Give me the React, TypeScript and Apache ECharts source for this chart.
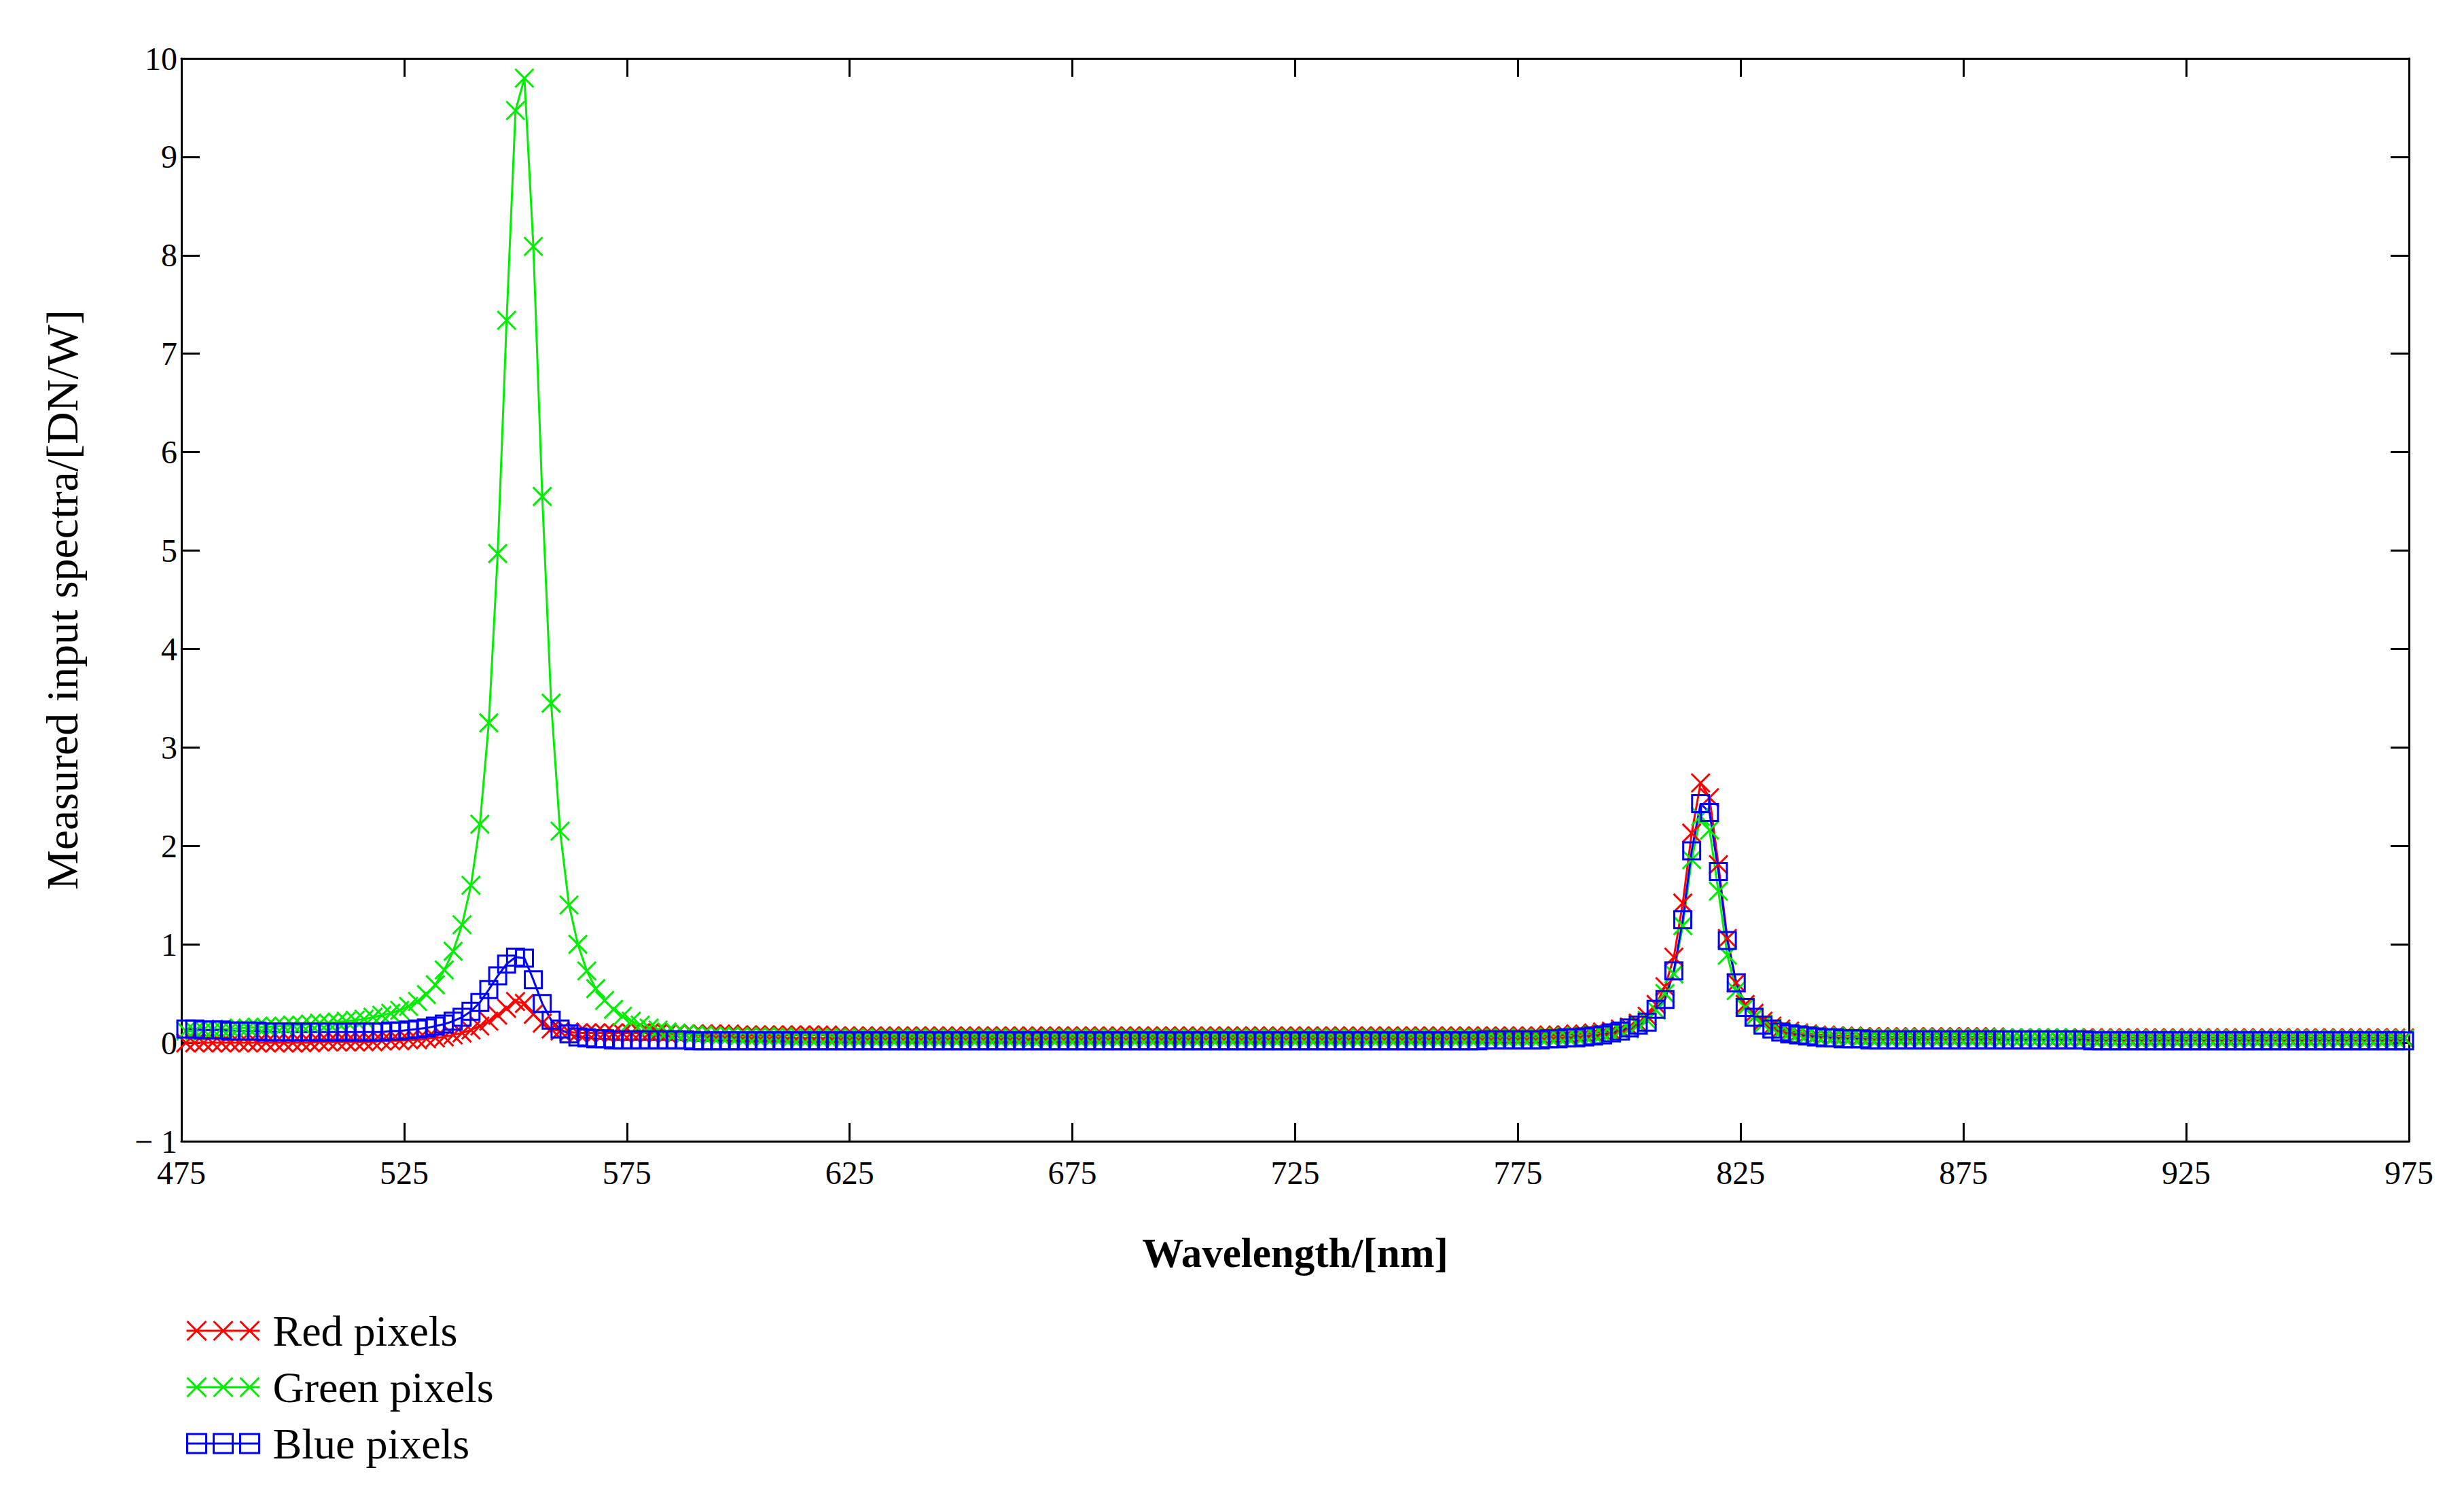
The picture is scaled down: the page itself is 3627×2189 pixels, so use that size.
import React, { useEffect, useRef } from "react";
import * as echarts from "echarts";

// Wavelength grid of the measured samples (nm), 2 nm spacing
const wavelengths: number[] = Array.from({ length: 250 }, (_, i) => 476 + 2 * i);

const xTickValues = [475, 525, 575, 625, 675, 725, 775, 825, 875, 925, 975];

const redPixels: number[] = [
  0.00, 0.00, 0.00, 0.00, 0.00, 0.00, 0.00, 0.00, 0.00, 0.00,
  0.00, 0.00, 0.00, 0.00, 0.00, 0.01, 0.01, 0.01, 0.01, 0.01,
  0.01, 0.01, 0.02, 0.02, 0.02, 0.03, 0.03, 0.04, 0.05, 0.06,
  0.08, 0.10, 0.13, 0.17, 0.22, 0.28, 0.35, 0.42, 0.40, 0.29,
  0.20, 0.14, 0.12, 0.11, 0.10, 0.10, 0.10, 0.10, 0.10, 0.10,
  0.10, 0.10, 0.10, 0.10, 0.09, 0.09, 0.09, 0.09, 0.09, 0.09,
  0.09, 0.09, 0.08, 0.08, 0.08, 0.08, 0.08, 0.08, 0.08, 0.08,
  0.08, 0.08, 0.08, 0.07, 0.07, 0.07, 0.07, 0.07, 0.07, 0.07,
  0.07, 0.07, 0.07, 0.07, 0.07, 0.07, 0.07, 0.07, 0.07, 0.07,
  0.07, 0.07, 0.07, 0.07, 0.07, 0.07, 0.07, 0.07, 0.07, 0.07,
  0.07, 0.07, 0.07, 0.07, 0.07, 0.07, 0.07, 0.07, 0.07, 0.07,
  0.07, 0.07, 0.07, 0.07, 0.07, 0.07, 0.07, 0.07, 0.07, 0.07,
  0.07, 0.07, 0.07, 0.07, 0.07, 0.07, 0.07, 0.07, 0.07, 0.07,
  0.07, 0.07, 0.07, 0.07, 0.07, 0.07, 0.07, 0.07, 0.07, 0.07,
  0.07, 0.07, 0.07, 0.07, 0.07, 0.07, 0.07, 0.07, 0.07, 0.07,
  0.07, 0.07, 0.07, 0.08, 0.08, 0.08, 0.09, 0.09, 0.10, 0.11,
  0.12, 0.14, 0.16, 0.20, 0.27, 0.39, 0.57, 0.87, 1.42, 2.13,
  2.64, 2.49, 1.81, 1.06, 0.61, 0.39, 0.30, 0.22, 0.17, 0.14,
  0.12, 0.10, 0.09, 0.08, 0.08, 0.07, 0.07, 0.07, 0.06, 0.06,
  0.06, 0.06, 0.06, 0.06, 0.06, 0.06, 0.06, 0.06, 0.06, 0.06,
  0.06, 0.06, 0.06, 0.06, 0.05, 0.05, 0.05, 0.05, 0.05, 0.05,
  0.05, 0.05, 0.05, 0.05, 0.05, 0.05, 0.05, 0.05, 0.05, 0.05,
  0.05, 0.05, 0.05, 0.05, 0.05, 0.05, 0.05, 0.05, 0.05, 0.05,
  0.05, 0.05, 0.05, 0.05, 0.05, 0.05, 0.05, 0.05, 0.05, 0.05,
  0.05, 0.05, 0.05, 0.05, 0.05, 0.05, 0.05, 0.05, 0.05, 0.05,
];

const greenPixels: number[] = [
  0.12, 0.12, 0.13, 0.13, 0.14, 0.14, 0.15, 0.15, 0.16, 0.16,
  0.17, 0.17, 0.18, 0.18, 0.19, 0.20, 0.20, 0.21, 0.22, 0.23,
  0.24, 0.26, 0.28, 0.30, 0.33, 0.37, 0.42, 0.49, 0.59, 0.74,
  0.93, 1.20, 1.60, 2.22, 3.25, 4.97, 7.34, 9.47, 9.80, 8.09,
  5.55, 3.45, 2.15, 1.40, 1.00, 0.73, 0.55, 0.43, 0.34, 0.27,
  0.22, 0.18, 0.15, 0.13, 0.11, 0.10, 0.09, 0.08, 0.08, 0.07,
  0.07, 0.07, 0.06, 0.06, 0.06, 0.06, 0.06, 0.06, 0.05, 0.05,
  0.05, 0.05, 0.05, 0.05, 0.05, 0.05, 0.05, 0.05, 0.05, 0.05,
  0.05, 0.05, 0.05, 0.05, 0.05, 0.05, 0.05, 0.05, 0.05, 0.05,
  0.05, 0.05, 0.05, 0.05, 0.05, 0.04, 0.05, 0.05, 0.05, 0.05,
  0.05, 0.05, 0.05, 0.05, 0.05, 0.05, 0.05, 0.05, 0.05, 0.05,
  0.05, 0.05, 0.05, 0.05, 0.05, 0.05, 0.05, 0.05, 0.05, 0.05,
  0.05, 0.05, 0.05, 0.05, 0.05, 0.05, 0.05, 0.05, 0.05, 0.05,
  0.05, 0.05, 0.05, 0.05, 0.05, 0.05, 0.05, 0.05, 0.05, 0.05,
  0.05, 0.05, 0.05, 0.05, 0.05, 0.05, 0.05, 0.05, 0.05, 0.05,
  0.05, 0.05, 0.05, 0.06, 0.06, 0.06, 0.07, 0.07, 0.08, 0.09,
  0.10, 0.12, 0.14, 0.18, 0.23, 0.33, 0.50, 0.70, 1.19, 1.86,
  2.30, 2.16, 1.54, 0.89, 0.53, 0.36, 0.26, 0.19, 0.15, 0.12,
  0.10, 0.09, 0.08, 0.07, 0.07, 0.06, 0.06, 0.06, 0.05, 0.05,
  0.05, 0.05, 0.05, 0.05, 0.05, 0.05, 0.05, 0.05, 0.05, 0.05,
  0.05, 0.05, 0.05, 0.05, 0.05, 0.05, 0.05, 0.05, 0.05, 0.05,
  0.05, 0.05, 0.05, 0.04, 0.04, 0.04, 0.04, 0.04, 0.04, 0.04,
  0.04, 0.04, 0.04, 0.04, 0.04, 0.04, 0.04, 0.04, 0.04, 0.04,
  0.04, 0.04, 0.04, 0.04, 0.04, 0.04, 0.04, 0.04, 0.04, 0.04,
  0.04, 0.04, 0.04, 0.04, 0.04, 0.04, 0.04, 0.04, 0.04, 0.04,
];

const bluePixels: number[] = [
  0.14, 0.14, 0.13, 0.13, 0.13, 0.12, 0.12, 0.12, 0.12, 0.11,
  0.11, 0.11, 0.11, 0.11, 0.11, 0.11, 0.11, 0.11, 0.11, 0.11,
  0.11, 0.11, 0.11, 0.12, 0.12, 0.13, 0.14, 0.15, 0.17, 0.19,
  0.22, 0.26, 0.32, 0.41, 0.54, 0.68, 0.80, 0.87, 0.86, 0.64,
  0.40, 0.23, 0.14, 0.09, 0.06, 0.05, 0.04, 0.04, 0.03, 0.03,
  0.03, 0.03, 0.03, 0.03, 0.03, 0.03, 0.03, 0.02, 0.02, 0.02,
  0.02, 0.02, 0.02, 0.02, 0.02, 0.02, 0.02, 0.02, 0.02, 0.02,
  0.02, 0.02, 0.02, 0.02, 0.02, 0.02, 0.02, 0.02, 0.02, 0.02,
  0.02, 0.02, 0.02, 0.02, 0.02, 0.02, 0.02, 0.02, 0.02, 0.02,
  0.02, 0.02, 0.02, 0.02, 0.02, 0.02, 0.02, 0.02, 0.02, 0.02,
  0.02, 0.02, 0.02, 0.02, 0.02, 0.02, 0.02, 0.02, 0.02, 0.02,
  0.02, 0.02, 0.02, 0.02, 0.02, 0.02, 0.02, 0.02, 0.02, 0.02,
  0.02, 0.02, 0.02, 0.02, 0.02, 0.02, 0.02, 0.02, 0.02, 0.02,
  0.02, 0.02, 0.02, 0.02, 0.02, 0.02, 0.02, 0.02, 0.02, 0.02,
  0.02, 0.02, 0.02, 0.02, 0.02, 0.02, 0.03, 0.03, 0.03, 0.03,
  0.03, 0.03, 0.03, 0.04, 0.04, 0.05, 0.05, 0.06, 0.07, 0.08,
  0.10, 0.12, 0.15, 0.18, 0.21, 0.34, 0.44, 0.73, 1.25, 1.95,
  2.43, 2.34, 1.74, 1.04, 0.61, 0.36, 0.26, 0.18, 0.14, 0.11,
  0.09, 0.08, 0.07, 0.06, 0.05, 0.05, 0.04, 0.04, 0.04, 0.03,
  0.03, 0.03, 0.03, 0.03, 0.03, 0.03, 0.03, 0.03, 0.03, 0.03,
  0.03, 0.03, 0.03, 0.03, 0.03, 0.03, 0.03, 0.03, 0.03, 0.03,
  0.03, 0.03, 0.03, 0.03, 0.02, 0.02, 0.02, 0.02, 0.02, 0.02,
  0.02, 0.02, 0.02, 0.02, 0.02, 0.02, 0.02, 0.02, 0.02, 0.02,
  0.02, 0.02, 0.02, 0.02, 0.02, 0.02, 0.02, 0.02, 0.02, 0.02,
  0.02, 0.02, 0.02, 0.02, 0.02, 0.02, 0.02, 0.02, 0.02, 0.02,
];

const seriesNames = ["Red pixels", "Green pixels", "Blue pixels"];
const seriesColors = ["#ff0000", "#00ee00", "#0000ff"];

const FONT = "'Liberation Serif', 'Times New Roman', serif";
const X_SYMBOL = "path://M0,0L10,10M10,0L0,10";
const SQ_SYMBOL = "path://M0,0H10V10H0Z";
const X_LEGEND =
  "path://M1,0L29,28M29,0L1,28M40,0L68,28M68,0L40,28M79,0L107,28M107,0L79,28M0,14L108,14";
const SQ_LEGEND =
  "path://M1,0H29V28H1ZM40,0H68V28H40ZM79,0H107V28H79ZM0,14H108";

export default function App() {
  const ref = useRef<HTMLDivElement>(null);

  useEffect(() => {
    if (!ref.current) return;
    const chart = echarts.init(ref.current, undefined, { renderer: "svg" });

    const allValues = [redPixels, greenPixels, bluePixels];
    const symbols = [X_SYMBOL, X_SYMBOL, SQ_SYMBOL];
    const sizes = [27, 27, 25];
    const legendIcons = [X_LEGEND, X_LEGEND, SQ_LEGEND];

    const axisLineStyle = { color: "#000", width: 3 };

    const series = allValues.map((vals, k) => ({
      name: seriesNames[k],
      type: "line",
      data: wavelengths.map((w, i) => [w, vals[i]]),
      symbol: symbols[k],
      symbolSize: sizes[k],
      showSymbol: true,
      showAllSymbol: true,
      itemStyle: {
        color: "transparent",
        borderColor: seriesColors[k],
        borderWidth: 3,
      },
      lineStyle: { color: seriesColors[k], width: 3 },
      emphasis: { disabled: true },
      silent: true,
      clip: true,
    }));

    chart.setOption({
      animation: false,
      backgroundColor: "#ffffff",
      grid: { left: 267, top: 86, right: 81, bottom: 509, containLabel: false },
      legend: {
        orient: "vertical",
        left: 268,
        top: 1922,
        itemWidth: 108,
        itemHeight: 28,
        itemGap: 19,
        selectedMode: false,
        textStyle: {
          fontFamily: FONT,
          fontSize: 64,
          color: "#000",
          padding: [0, 0, 0, 14],
        },
        data: seriesNames.map((n, k) => ({
          name: n,
          icon: legendIcons[k],
          itemStyle: {
            color: "transparent",
            borderColor: seriesColors[k],
            borderWidth: 3,
          },
        })),
      },
      xAxis: [
        {
          type: "value",
          position: "bottom",
          min: 475,
          max: 975,
          name: "Wavelength/[nm]",
          nameLocation: "middle",
          nameGap: 134,
          nameTextStyle: {
            fontFamily: FONT,
            fontSize: 61,
            fontWeight: "bold",
            color: "#000",
          },
          axisLine: { show: true, onZero: false, lineStyle: axisLineStyle },
          axisTick: {
            show: true,
            inside: true,
            length: 27,
            lineStyle: axisLineStyle,
            customValues: xTickValues,
          },
          axisLabel: {
            show: true,
            margin: 22,
            fontFamily: FONT,
            fontSize: 48,
            color: "#000",
            customValues: xTickValues,
            showMinLabel: true,
            showMaxLabel: true,
            hideOverlap: false,
          },
          splitLine: { show: false },
        },
        {
          type: "value",
          position: "top",
          min: 475,
          max: 975,
          axisLine: { show: true, onZero: false, lineStyle: axisLineStyle },
          axisTick: {
            show: true,
            inside: true,
            length: 27,
            lineStyle: axisLineStyle,
            customValues: xTickValues,
          },
          axisLabel: { show: false },
          splitLine: { show: false },
        },
      ],
      yAxis: [
        {
          type: "value",
          position: "left",
          min: -1,
          max: 10,
          interval: 1,
          name: "Measured input spectra/[DN/W]",
          nameLocation: "middle",
          nameGap: 143,
          nameRotate: 90,
          nameTextStyle: {
            fontFamily: FONT,
            fontSize: 66,
            color: "#000",
          },
          axisLine: { show: true, onZero: false, lineStyle: axisLineStyle },
          axisTick: { show: true, inside: true, length: 27, lineStyle: axisLineStyle },
          axisLabel: {
            margin: 6,
            fontFamily: FONT,
            fontSize: 48,
            color: "#000",
            formatter: (v: number) => (v < 0 ? "\u2212 " + Math.abs(v) : String(v)),
          },
          splitLine: { show: false },
        },
        {
          type: "value",
          position: "right",
          min: -1,
          max: 10,
          interval: 1,
          axisLine: { show: true, onZero: false, lineStyle: axisLineStyle },
          axisTick: { show: true, inside: true, length: 27, lineStyle: axisLineStyle },
          axisLabel: { show: false },
          splitLine: { show: false },
        },
      ],
      series,
    });

    return () => {
      chart.dispose();
    };
  }, []);

  return (
    <div
      ref={ref}
      style={{
        position: "fixed",
        left: 0,
        top: 0,
        width: 3627,
        height: 2189,
        background: "#fff",
      }}
    />
  );
}
